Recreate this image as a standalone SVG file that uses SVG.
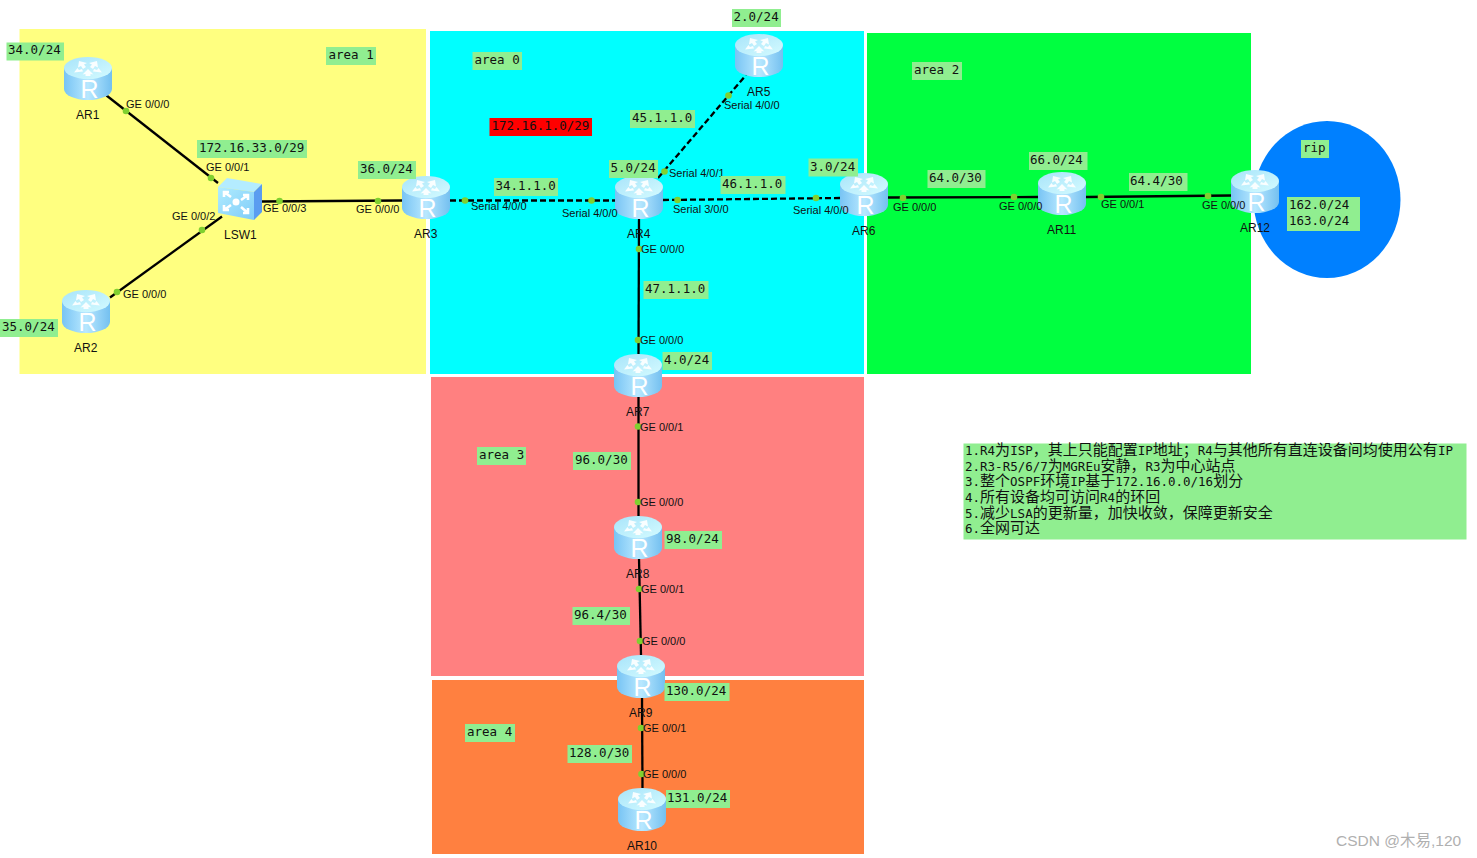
<svg xmlns="http://www.w3.org/2000/svg" width="1477" height="858" viewBox="0 0 1477 858">
<style>
.lb{fill:#90ee90}
.m{font-family:"DejaVu Sans Mono","Liberation Mono",monospace;font-size:12.5px;fill:#111}
.n{font-family:"Liberation Sans",Arial,sans-serif;font-size:12px;fill:#111}
.g{font-family:"Liberation Sans",Arial,sans-serif;font-size:11px;fill:#111}
.r{font-family:"Liberation Sans",Arial,sans-serif;font-size:25px;fill:#fff;text-anchor:middle}
.c{font-family:"Noto Sans CJK SC",sans-serif;font-size:15px}
.l{stroke:#000;stroke-width:2.300;fill:none}
.d{stroke-dasharray:6 3}
.p{fill:#80d030}
.a{fill:none;stroke:#fff;stroke-width:2.600}
</style>
<defs>
<linearGradient id="body" x1="0" x2="1" y1="0" y2="0"><stop offset="0" stop-color="#78c4f4"/><stop offset=".5" stop-color="#b8e8ff"/><stop offset="1" stop-color="#74c0f0"/></linearGradient>
<linearGradient id="top" x1="0" x2="1" y1="0" y2="1"><stop offset="0" stop-color="#a8e4fa"/><stop offset="1" stop-color="#d4fbff"/></linearGradient>
<linearGradient id="front" x1="0" x2="1" y1="0" y2="1"><stop offset="0" stop-color="#b0ecff"/><stop offset="1" stop-color="#80ccf8"/></linearGradient>
<g id="router">
<path d="M0 11V32A24 11 0 0 0 48 32V11Z" fill="url(#body)"/>
<ellipse cx="24" cy="11" rx="24" ry="11" fill="url(#top)"/>
<path d="M15 4l8 2-3 1.500 2 2.500-3 2-2-3-3 1.500zM33 4l-8 2 3 1.500-2 2.500 3 2 2-3 3 1.500zM10 15.500l9-1-1-2.500-3 1-1.500-2zM38 15.500l-9-1 1-2.500 3 1 1.500-2zM24 12l-5.500 5.500 3-.5 0 2 5 0 0-2 3 .5z" fill="#fff" opacity=".9"/>
</g>
<g id="switchIcon">
<path d="M0 9L9 0 44 6 36 14Z" fill="#b4ecff"/>
<path d="M36 14L44 6V34L36 42Z" fill="#5a9cf0"/>
<path d="M0 9L36 14V42L0 35Z" fill="url(#front)"/>
<circle cx="18" cy="24" r="3.500" fill="#fff"/>
<path class="a" d="M6 14l7 5M6 19v-5h5M30 17l-7 5M30 22v-5h-5M6 32l7-5M6 27v5h5M30 35l-7-6M30 30v5h-5"/>
</g>
</defs>

<g id="areas">
<rect x="19.500" y="29" width="406.500" height="345" fill="#ffff80"/>
<rect x="430" y="31" width="434" height="343" fill="#00ffff"/>
<rect x="867" y="33" width="384" height="341" fill="#00ff40"/>
<rect x="431" y="377" width="433" height="299" fill="#ff8080"/>
<rect x="432" y="680" width="432" height="174" fill="#ff8040"/>
<ellipse cx="1327" cy="199.500" rx="73.500" ry="78.500" fill="#0080ff"/>
</g>

<g id="connectors">
<path class="l" d="M106.500 95.500L218 183"/>
<path class="l" d="M222 216.500L110 297.500"/>
<path class="l" d="M262 201.500L402 200.500"/>
<path class="l d" d="M450 200.500H615"/>
<path class="l d" d="M658 178L746 75"/>
<path class="l d" d="M663 200L840 198"/>
<path class="l" d="M639 219L638.500 354"/>
<path class="l" d="M888 197.500L1038 197"/>
<path class="l" d="M1086 197L1231 195.500"/>
<path class="l" d="M638.500 396V516"/>
<path class="l" d="M639 558L641 655"/>
<path class="l" d="M642 697L642.500 788"/>
<g class="p">
<circle cx="126" cy="111" r="3.300"/><circle cx="211" cy="178" r="3.300"/><circle cx="202" cy="230" r="3.300"/><circle cx="117" cy="292" r="3.300"/><circle cx="279.500" cy="201" r="3.300"/><circle cx="378" cy="201" r="3.300"/>
<circle cx="465" cy="200.500" r="3.300"/><circle cx="591.500" cy="200.500" r="3.300"/><circle cx="664.500" cy="171.500" r="3.300"/><circle cx="728.500" cy="95.500" r="3.300"/><circle cx="677.500" cy="200" r="3.300"/><circle cx="816" cy="198" r="3.300"/><circle cx="639" cy="249" r="3.300"/><circle cx="638" cy="340" r="3.300"/>
<circle cx="638" cy="426.500" r="3.300"/><circle cx="638" cy="502" r="3.300"/><circle cx="639" cy="589" r="3.300"/><circle cx="640" cy="641" r="3.300"/><circle cx="641" cy="728" r="3.300"/><circle cx="641.500" cy="774" r="3.300"/>
<circle cx="903" cy="198" r="3.300"/><circle cx="1014" cy="197" r="3.300"/><circle cx="1101" cy="197" r="3.300"/><circle cx="1208" cy="196" r="3.300"/>
</g>
</g>

<g id="AR1"><use href="#router" x="64" y="57"/><text class="r" x="89.500" y="98">R</text><text class="n" x="76" y="119">AR1</text></g>
<g id="AR2"><use href="#router" x="62" y="290"/><text class="r" x="87.500" y="331">R</text><text class="n" x="74" y="352">AR2</text></g>
<g id="AR3"><use href="#router" x="402" y="176"/><text class="r" x="427.500" y="217">R</text><text class="n" x="414" y="238">AR3</text></g>
<g id="AR4"><use href="#router" x="615" y="176"/><text class="r" x="640.500" y="217">R</text><text class="n" x="627" y="238">AR4</text></g>
<g id="AR5"><use href="#router" x="735" y="34"/><text class="r" x="760.500" y="75">R</text><text class="n" x="747" y="96">AR5</text></g>
<g id="AR6"><use href="#router" x="840" y="173"/><text class="r" x="865.500" y="214">R</text><text class="n" x="852" y="235">AR6</text></g>
<g id="AR7"><use href="#router" x="614" y="354"/><text class="r" x="639.500" y="395">R</text><text class="n" x="626" y="416">AR7</text></g>
<g id="AR8"><use href="#router" x="614" y="516"/><text class="r" x="639.500" y="557">R</text><text class="n" x="626" y="578">AR8</text></g>
<g id="AR9"><use href="#router" x="617" y="655"/><text class="r" x="642.500" y="696">R</text><text class="n" x="629" y="717">AR9</text></g>
<g id="AR10"><use href="#router" x="618" y="788"/><text class="r" x="643.500" y="829">R</text><text class="n" x="627" y="850">AR10</text></g>
<g id="AR11"><use href="#router" x="1038" y="172"/><text class="r" x="1063.500" y="213">R</text><text class="n" x="1047" y="234">AR11</text></g>
<g id="AR12"><use href="#router" x="1231" y="170"/><text class="r" x="1256.500" y="211">R</text><text class="n" x="1240" y="232">AR12</text></g>
<g id="LSW1"><use href="#switchIcon" x="218" y="178"/><text class="n" x="224" y="239">LSW1</text></g>

<g id="port-labels">
<text class="g" x="126" y="108">GE 0/0/0</text>
<text class="g" x="206" y="171">GE 0/0/1</text>
<text class="g" x="172" y="220">GE 0/0/2</text>
<text class="g" x="123" y="298">GE 0/0/0</text>
<text class="g" x="263" y="212">GE 0/0/3</text>
<text class="g" x="356" y="213">GE 0/0/0</text>
<text class="g" x="471" y="210">Serial 4/0/0</text>
<text class="g" x="562" y="217">Serial 4/0/0</text>
<text class="g" x="669" y="177">Serial 4/0/1</text>
<text class="g" x="724" y="109">Serial 4/0/0</text>
<text class="g" x="673" y="213">Serial 3/0/0</text>
<text class="g" x="793" y="214">Serial 4/0/0</text>
<text class="g" x="641" y="253">GE 0/0/0</text>
<text class="g" x="640" y="344">GE 0/0/0</text>
<text class="g" x="640" y="431">GE 0/0/1</text>
<text class="g" x="640" y="506">GE 0/0/0</text>
<text class="g" x="641" y="593">GE 0/0/1</text>
<text class="g" x="642" y="645">GE 0/0/0</text>
<text class="g" x="643" y="732">GE 0/0/1</text>
<text class="g" x="643" y="778">GE 0/0/0</text>
<text class="g" x="893" y="211">GE 0/0/0</text>
<text class="g" x="999" y="210">GE 0/0/0</text>
<text class="g" x="1101" y="208">GE 0/0/1</text>
<text class="g" x="1202" y="209">GE 0/0/0</text>
</g>

<g id="annotations">
<rect class="lb" x="6.500" y="42.500" width="57.500" height="18"/><text class="m" x="8" y="54">34.0/24</text>
<rect class="lb" x="326" y="47" width="50" height="18"/><text class="m" x="328.500" y="59">area 1</text>
<rect class="lb" x="197" y="140" width="110" height="18"/><text class="m" x="199" y="152">172.16.33.0/29</text>
<rect class="lb" x="358" y="161" width="58" height="18"/><text class="m" x="360" y="173">36.0/24</text>
<rect class="lb" x="0" y="319" width="58" height="18"/><text class="m" x="2" y="331">35.0/24</text>
<rect class="lb" x="472.500" y="52" width="49.500" height="18"/><text class="m" x="474.500" y="64">area 0</text>
<rect fill="#ff0000" x="489.500" y="118" width="102.500" height="18"/><text class="m" x="491.500" y="130">172.16.1.0/29</text>
<rect class="lb" x="630" y="110" width="65" height="18"/><text class="m" x="632" y="122">45.1.1.0</text>
<rect class="lb" x="732" y="9" width="49" height="18"/><text class="m" x="733.500" y="21">2.0/24</text>
<rect class="lb" x="609" y="160" width="49" height="18"/><text class="m" x="610.500" y="172">5.0/24</text>
<rect class="lb" x="494" y="178" width="64" height="18"/><text class="m" x="495.500" y="190">34.1.1.0</text>
<rect class="lb" x="720.500" y="176" width="65" height="18"/><text class="m" x="722" y="188">46.1.1.0</text>
<rect class="lb" x="808.500" y="158.500" width="49.500" height="18"/><text class="m" x="810" y="170.500">3.0/24</text>
<rect class="lb" x="643.500" y="281" width="65" height="18"/><text class="m" x="645" y="293">47.1.1.0</text>
<rect class="lb" x="662.500" y="352" width="49.500" height="18"/><text class="m" x="664" y="364">4.0/24</text>
<rect class="lb" x="912" y="62" width="50" height="18"/><text class="m" x="914" y="74">area 2</text>
<rect class="lb" x="927.500" y="170" width="58" height="18"/><text class="m" x="929" y="182">64.0/30</text>
<rect class="lb" x="1029" y="152" width="58.500" height="18"/><text class="m" x="1030" y="164">66.0/24</text>
<rect class="lb" x="1129" y="173" width="58.500" height="18"/><text class="m" x="1130" y="185">64.4/30</text>
<rect class="lb" x="1301" y="140" width="28" height="18"/><text class="m" x="1303" y="152">rip</text>
<rect class="lb" x="1287" y="197" width="73" height="34"/><text class="m" x="1289" y="209">162.0/24</text><text class="m" x="1289" y="225">163.0/24</text>
<rect class="lb" x="477" y="447" width="49" height="18"/><text class="m" x="479" y="459">area 3</text>
<rect class="lb" x="573" y="452" width="58" height="18"/><text class="m" x="575" y="464">96.0/30</text>
<rect class="lb" x="664.500" y="531" width="57.500" height="18"/><text class="m" x="666" y="543">98.0/24</text>
<rect class="lb" x="572.500" y="607" width="57.500" height="18"/><text class="m" x="574" y="619">96.4/30</text>
<rect class="lb" x="664.500" y="683" width="65" height="18"/><text class="m" x="666" y="695">130.0/24</text>
<rect class="lb" x="567.500" y="745" width="64.500" height="18"/><text class="m" x="569" y="757">128.0/30</text>
<rect class="lb" x="666" y="790" width="64" height="18"/><text class="m" x="667" y="802">131.0/24</text>
<rect class="lb" x="465" y="724" width="50" height="18"/><text class="m" x="467" y="736">area 4</text>
</g>

<g id="notes">
<rect class="lb" x="963.500" y="443.500" width="503" height="96"/>
<text class="m" x="965" y="455">1.R4<tspan class="c">为</tspan>ISP<tspan class="c">，其上只能配置</tspan>IP<tspan class="c">地址；</tspan>R4<tspan class="c">与其他所有直连设备间均使用公有</tspan>IP</text>
<text class="m" x="965" y="471">2.R3-R5/6/7<tspan class="c">为</tspan>MGREu<tspan class="c">安静，</tspan>R3<tspan class="c">为中心站点</tspan></text>
<text class="m" x="965" y="486">3.<tspan class="c">整个</tspan>OSPF<tspan class="c">环境</tspan>IP<tspan class="c">基于</tspan>172.16.0.0/16<tspan class="c">划分</tspan></text>
<text class="m" x="965" y="502">4.<tspan class="c">所有设备均可访问</tspan>R4<tspan class="c">的环回</tspan></text>
<text class="m" x="965" y="518">5.<tspan class="c">减少</tspan>LSA<tspan class="c">的更新量，加快收敛，保障更新安全</tspan></text>
<text class="m" x="965" y="533">6.<tspan class="c">全网可达</tspan></text>
</g>

<text x="1336" y="846" font-family="'Liberation Sans','Noto Sans CJK SC',sans-serif" font-size="15.500" fill="#b0b0b0">CSDN @木易,120</text>
</svg>
